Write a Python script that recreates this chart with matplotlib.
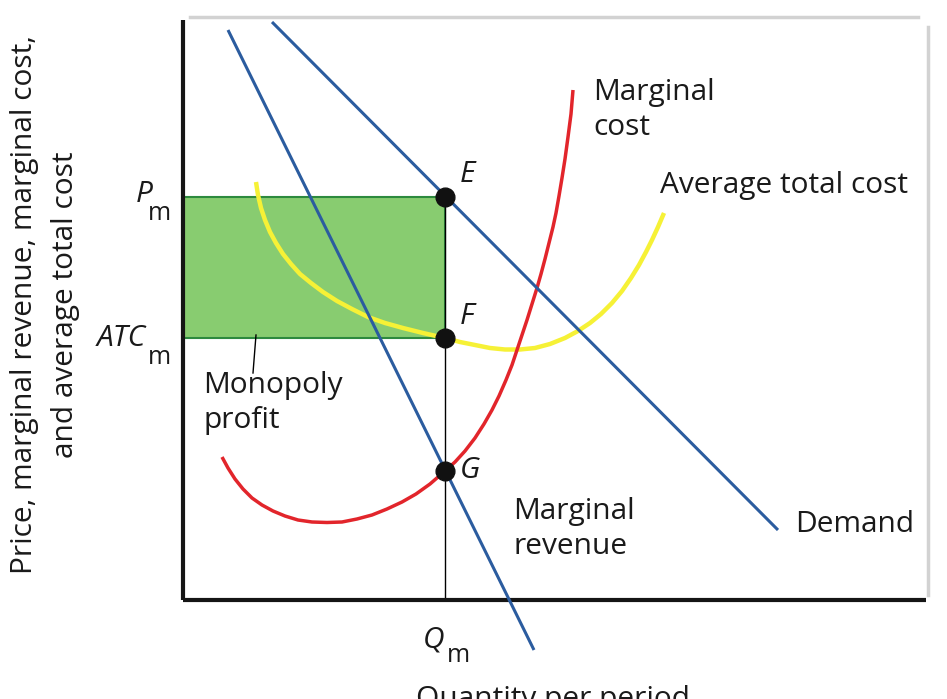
import matplotlib
matplotlib.use("Agg")
import matplotlib.pyplot as plt
from matplotlib.lines import Line2D

plt.rcParams["font.family"] = ["Open Sans", "DejaVu Sans"]

# ---------------------------------------------------------------------------
# Datos (unidades arbitrarias: cantidad, precio)
# ---------------------------------------------------------------------------
demanda_q = [89, 595]
demanda_p = [578, 70]

ingreso_marg_q = [45, 351]
ingreso_marg_p = [570, -50]

costo_marg_q = [39, 45, 52, 60, 69, 79, 90, 102, 115, 129, 144, 159, 174,
                189, 204, 219, 233, 247, 262, 272, 282, 292, 301, 309, 316,
                323, 329, 334, 339, 344, 349, 354, 358, 362, 366, 370, 373,
                376, 379, 382, 385, 388, 390]
costo_marg_p = [143, 132, 121, 111, 102, 95, 89, 84, 80, 78, 77.5, 78, 81,
                85, 91, 98, 106, 116, 129, 138, 149, 162, 176, 190, 204, 220,
                235, 250, 265, 280, 296, 312, 326, 341, 357, 373, 387, 404,
                422, 441, 463, 486, 510]

costo_medio_q = [73, 75, 78, 82, 87, 93, 100, 108, 117, 128, 140, 154, 169,
                 185, 202, 220, 240, 262, 277, 292, 307, 322, 337, 352, 367,
                 382, 395, 407, 418, 429, 439, 448, 456, 463, 469, 475, 481]
costo_medio_p = [418, 405, 392, 380, 368, 357, 346, 336, 326, 317, 308, 299,
                 291, 283, 277, 272, 267, 262, 258, 255, 252, 250.5, 250.5,
                 252, 256, 262, 269, 277, 286, 297, 309, 322, 335, 348, 360,
                 373, 387]

Q_m = 262
P_m = 403
ATC_m = 262
MC_m = 129

puntos_q = [Q_m, Q_m, Q_m]
puntos_p = [P_m, ATC_m, MC_m]
puntos_etiqueta = ["E", "F", "G"]

AZUL = "#2b5c9f"
ROJO = "#e2252b"
AMARILLO = "#f6f136"
VERDE = "#88cc70"
VERDE_BORDE = "#2d8a3e"
TEXTO = "#1a1a1a"
FS = 21.5
FS_SUB = 18

fig = plt.figure(figsize=(9.47, 6.99), dpi=100)
W, H = 947, 699
ax = fig.add_axes([183 / W, 99 / H, 743 / W, 580 / H])
ax.set_xlim(0, 743)
ax.set_ylim(0, 580)
ax.set_facecolor("none")

# marco gris de fondo (sombra)
fig.add_artist(Line2D([190 / W, 918 / W], [1 - 17 / H, 1 - 17 / H],
                      color="#d2d2d2", lw=2.5, transform=fig.transFigure))
fig.add_artist(Line2D([928 / W, 928 / W], [1 - 27 / H, 1 - 595 / H],
                      color="#d2d2d2", lw=2.5, transform=fig.transFigure))

for lado in ["top", "right"]:
    ax.spines[lado].set_visible(False)
for lado in ["left", "bottom"]:
    ax.spines[lado].set_linewidth(3.0)
    ax.spines[lado].set_color("#151515")
    ax.spines[lado].set_capstyle("butt")
ax.set_xticks([])
ax.set_yticks([])

# rectángulo de beneficio
ax.fill_between([0, Q_m], ATC_m, P_m, facecolor=VERDE, edgecolor="none",
                zorder=1)
ax.plot([0, Q_m, Q_m, 0], [P_m, P_m, ATC_m, ATC_m], color=VERDE_BORDE,
        lw=1.5, zorder=1.5)

# línea vertical en Q_m
ax.plot([Q_m, Q_m], [0, P_m], color="black", lw=1.0, zorder=2)

ax.plot(costo_medio_q, costo_medio_p, color=AMARILLO, lw=3.2,
        solid_capstyle="butt", solid_joinstyle="round", zorder=3)
ax.plot(costo_marg_q, costo_marg_p, color=ROJO, lw=2.5,
        solid_capstyle="butt", solid_joinstyle="round", zorder=4)
ax.plot(demanda_q, demanda_p, color=AZUL, lw=2.2, solid_capstyle="butt",
        zorder=5)
ax.plot(ingreso_marg_q, ingreso_marg_p, color=AZUL, lw=2.2,
        solid_capstyle="butt", zorder=5, clip_on=False)

ax.plot(puntos_q, puntos_p, "o", color="#111111", ms=13.5, zorder=6)

# etiquetas de puntos
for q, p, et in zip(puntos_q, puntos_p, puntos_etiqueta):
    dy = 22 if et != "G" else 0
    ax.text(q + 15, p + dy, et, fontsize=FS, style="italic", color=TEXTO,
            ha="left", va="center")

# etiquetas de curvas
ax.text(410, 490, "Marginal\ncost", fontsize=FS, color=TEXTO, ha="left",
        va="center", linespacing=1.25)
ax.text(477, 415, "Average total cost", fontsize=FS, color=TEXTO,
        ha="left", va="center")
ax.text(612, 75, "Demand", fontsize=FS, color=TEXTO, ha="left",
        va="center")
ax.text(330, 71, "Marginal\nrevenue", fontsize=FS, color=TEXTO, ha="left",
        va="center", linespacing=1.25)
ax.text(20, 197, "Monopoly\nprofit", fontsize=FS, color=TEXTO, ha="left",
        va="center", linespacing=1.25)
ax.plot([73, 70], [265, 227], color="black", lw=1.0, zorder=2)

# etiquetas de ejes
ax.text(-30, P_m + 2, "P", fontsize=FS, style="italic", color=TEXTO,
        ha="right", va="center", clip_on=False)
ax.text(-35, P_m - 17, "m", fontsize=FS_SUB, color=TEXTO, ha="left",
        va="center", clip_on=False)
ax.text(-37, ATC_m, "ATC", fontsize=FS, style="italic", color=TEXTO,
        ha="right", va="center", clip_on=False)
ax.text(-35, ATC_m - 20, "m", fontsize=FS_SUB, color=TEXTO, ha="left",
        va="center", clip_on=False)
ax.text(Q_m - 1, -40, "Q", fontsize=FS, style="italic", color=TEXTO,
        ha="right", va="center", clip_on=False)
ax.text(Q_m + 2, -56, "m", fontsize=FS_SUB, color=TEXTO, ha="left",
        va="center", clip_on=False)

ax.text(370, -85, "Quantity per period", fontsize=FS, color=TEXTO,
        ha="center", va="top", clip_on=False)
ax.text(-138, 295, "Price, marginal revenue, marginal cost,\n"
        "and average total cost", fontsize=FS, color=TEXTO, rotation=90,
        ha="center", va="center", multialignment="center", linespacing=1.5,
        clip_on=False)

fig.savefig("out.png", dpi=100)
